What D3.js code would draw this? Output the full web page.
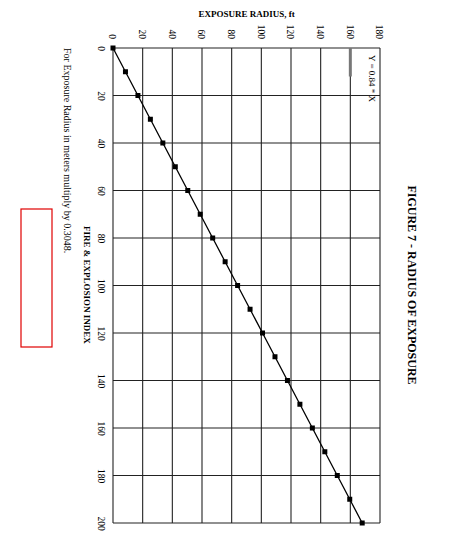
<!DOCTYPE html>
<html>
<head>
<meta charset="utf-8">
<script src="https://cdn.jsdelivr.net/npm/d3@7"></script>
<style>
  body { margin: 0; background: #fff; }
  text { font-family: "Liberation Serif", serif; }
</style>
</head>
<body>
<div id="chart"></div>
<script>
// Fire & Explosion Index vs exposure radius (ft)
var fireIndex = [0, 10, 20, 30, 40, 50, 60, 70, 80, 90, 100, 110, 120, 130, 140, 150, 160, 170, 180, 190, 200];
var radius = [0, 8.4, 16.8, 25.2, 33.6, 42, 50.4, 58.8, 67.2, 75.6, 84, 92.4, 100.8, 109.2, 117.6, 126, 134.4, 142.8, 151.2, 159.6, 168];
var indexTicks = [0, 20, 40, 60, 80, 100, 120, 140, 160, 180, 200];
var radiusTicks = [0, 20, 40, 60, 80, 100, 120, 140, 160, 180];

var svgWidth = 453, svgHeight = 559;
var width = 475, height = 267;

var svg = d3.select("#chart").append("svg")
  .attr("width", svgWidth)
  .attr("height", svgHeight);

// the page is printed sideways, so draw a normal chart and turn it
var g = svg.append("g")
  .attr("transform", "translate(380,48) rotate(90)");

var x = d3.scaleLinear().domain([0, 200]).range([0, width]);
var y = d3.scaleLinear().domain([0, 180]).range([height, 0]);

// grid
g.selectAll(".vgrid").data(indexTicks).enter().append("line")
  .attr("x1", d => x(d)).attr("x2", d => x(d))
  .attr("y1", 0).attr("y2", height)
  .attr("stroke", "#222").attr("stroke-width", 1.1);
g.selectAll(".hgrid").data(radiusTicks).enter().append("line")
  .attr("x1", 0).attr("x2", width)
  .attr("y1", d => y(d)).attr("y2", d => y(d))
  .attr("stroke", "#222").attr("stroke-width", 1.1);

// heavier grey bit near the top of the 160 line
g.append("line")
  .attr("x1", x(0)).attr("x2", x(12))
  .attr("y1", y(160)).attr("y2", y(160))
  .attr("stroke", "#777").attr("stroke-width", 3);

g.append("g")
  .attr("transform", `translate(0,${height})`)
  .call(d3.axisBottom(x).tickValues(indexTicks).tickSize(0).tickPadding(8))
  .call(a => a.select(".domain").remove())
  .selectAll("text").style("font-size", "9.5px");

g.append("g")
  .call(d3.axisLeft(y).tickValues(radiusTicks).tickSize(0).tickPadding(9))
  .call(a => a.select(".domain").remove())
  .selectAll("text").style("font-size", "9.5px");

// the line and its points
var line = d3.line().x((d, i) => x(fireIndex[i])).y(d => y(d));
g.append("path")
  .datum(radius)
  .attr("d", line)
  .attr("fill", "none")
  .attr("stroke", "#000")
  .attr("stroke-width", 1.3);

g.selectAll(".pt").data(radius).enter().append("rect")
  .attr("x", (d, i) => x(fireIndex[i]) - 2.5)
  .attr("y", d => y(d) - 2.5)
  .attr("width", 5).attr("height", 5)
  .attr("fill", "#000");

g.append("text")
  .attr("x", 7).attr("y", 11)
  .style("font-size", "9px")
  .text("Y = 0.84 * X");

// labels
g.append("text")
  .attr("transform", `translate(-31,${height / 2}) rotate(-90)`)
  .attr("text-anchor", "middle")
  .style("font-size", "9px").style("font-weight", "bold")
  .text("EXPOSURE RADIUS, ft");

g.append("text")
  .attr("x", 237).attr("y", 296)
  .attr("text-anchor", "middle")
  .style("font-size", "9px").style("font-weight", "bold")
  .text("FIRE & EXPLOSION INDEX");

g.append("text")
  .attr("x", 0).attr("y", 316)
  .style("font-size", "10px")
  .text("For Exposure Radius in meters multiply by 0.3048.");

g.append("text")
  .attr("x", 237).attr("y", -28)
  .attr("text-anchor", "middle")
  .style("font-size", "12px").style("font-weight", "bold")
  .text("FIGURE 7 - RADIUS OF EXPOSURE");

g.append("rect")
  .attr("x", 161).attr("y", 328)
  .attr("width", 138).attr("height", 31)
  .attr("fill", "none").attr("stroke", "#e00000").attr("stroke-width", 1.2);
</script>
</body>
</html>
